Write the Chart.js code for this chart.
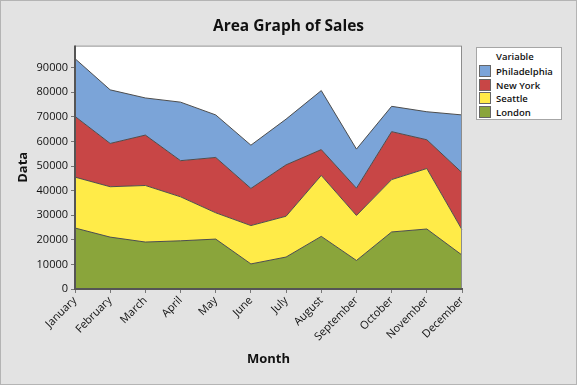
<!DOCTYPE html>
<html>
<head>
<meta charset="utf-8">
<script src="https://cdn.jsdelivr.net/npm/chart.js@4"></script>
<style>
  html, body { margin: 0; padding: 0; background: #e3e3e3; }
  #wrap { position: relative; width: 577px; height: 385px; overflow: hidden; }
  #frame { position: absolute; left: 0; top: 0; width: 575px; height: 383px; border: 1px solid #b4b4b4; pointer-events: none; }
  canvas { position: absolute; left: 0; top: 0; }
  #legend { position: absolute; left: 476px; top: 47px; width: 84px; height: 71px; background: #fff; border: 1px solid #a6a6a6;
            font-family: "Open Sans", "Noto Sans", sans-serif; font-size: 9.5px; font-weight: 600; color: #111; }
  #legend .ttl { position: absolute; left: 19px; top: 2px; }
  #legend .it { position: absolute; left: 2px; height: 13px; line-height: 13px; white-space: nowrap; }
  #legend .sw { display: inline-block; width: 10px; height: 10px; border: 1px solid #666; vertical-align: -2px; margin-right: 5px; }
</style>
</head>
<body>
<div id="wrap">
  <canvas id="c" width="577" height="385"></canvas>
  <div id="legend"></div>
  <div id="frame"></div>
</div>
<script>
const months = ['January','February','March','April','May','June','July','August','September','October','November','December'];
const london       = [24800, 21100, 19100, 19600, 20300, 10200, 13000, 21400, 11600, 23200, 24400, 13800];
const seattle      = [20700, 20500, 23000, 17900, 10700, 15600, 16600, 24800, 18300, 21300, 24600, 10300];
const newYork      = [24700, 17600, 20500, 14700, 22500, 15100, 20900, 10500, 11100, 19500, 11700, 23200];
const philadelphia = [23500, 21800, 15100, 23800, 17300, 17600, 18600, 24000, 15900, 10300, 11400, 23500];
const yTickValues  = [0, 10000, 20000, 30000, 40000, 50000, 60000, 70000, 80000, 90000];
const seriesNames  = ['London', 'Seattle', 'New York', 'Philadelphia'];
const seriesColors = ['#8aa53b', '#ffeb48', '#c84646', '#7ba4d8'];
const seriesData   = [london, seattle, newYork, philadelphia];

const FONT = '"Open Sans", "Noto Sans", sans-serif';

const datasets = seriesData.map((d, i) => ({
  label: seriesNames[i],
  data: d,
  backgroundColor: seriesColors[i],
  borderColor: '#4d4d4d',
  borderWidth: 1,
  pointRadius: 0,
  tension: 0,
  fill: i === 0 ? 'origin' : '-1'
}));

const plotFrame = {
  id: 'plotFrame',
  beforeDraw(chart) {
    const {ctx, chartArea: a} = chart;
    ctx.save();
    ctx.fillStyle = '#ffffff';
    ctx.fillRect(a.left, a.top, a.right - a.left, a.bottom - a.top);
    ctx.restore();
  },
  afterDatasetsDraw(chart) {
    const {ctx, chartArea: a} = chart;
    ctx.save();
    ctx.strokeStyle = '#8c8c8c';
    ctx.lineWidth = 1;
    ctx.strokeRect(a.left + 0.5, a.top + 0.5, a.right - a.left - 1, a.bottom - a.top);
    ctx.strokeStyle = '#555555';
    ctx.lineWidth = 2;
    ctx.beginPath();
    ctx.moveTo(a.left, a.top);
    ctx.lineTo(a.left, a.bottom);
    ctx.lineTo(a.right + 1, a.bottom);
    ctx.stroke();
    ctx.restore();
  }
};

new Chart(document.getElementById('c'), {
  type: 'line',
  data: { labels: months, datasets },
  plugins: [plotFrame],
  options: {
    responsive: false,
    animation: false,
    layout: { padding: 0 },
    plugins: {
      legend: { display: false },
      tooltip: { enabled: false },
      title: {
        display: true,
        text: 'Area Graph of Sales',
        color: '#111',
        font: { family: FONT, size: 15.5, weight: 'bold' },
        padding: { top: 17, bottom: 10 }
      },
      filler: { propagate: false }
    },
    scales: {
      x: {
        type: 'category',
        offset: false,
        grid: { display: true, drawOnChartArea: false, tickLength: 4, color: '#777' },
        border: { display: false },
        ticks: {
          color: '#111', font: { family: FONT, size: 11 },
          minRotation: 45, maxRotation: 45, padding: 1, autoSkip: false
        },
        title: {
          display: true, text: 'Month', color: '#111',
          font: { family: FONT, size: 13, weight: 'bold' },
          padding: { top: 0, bottom: 18 }
        },
        afterFit(s) { s.height = 96; }
      },
      y: {
        stacked: true,
        min: 0, max: 99000,
        grid: { display: true, drawOnChartArea: false, tickLength: 4, color: '#777' },
        border: { display: false },
        ticks: { color: '#111', font: { family: FONT, size: 11 }, padding: 3,
                 callback: v => String(v) },
        afterBuildTicks(s) { s.ticks = yTickValues.map(v => ({ value: v })); },
        title: {
          display: true, text: 'Data', color: '#111',
          font: { family: FONT, size: 13, weight: 'bold' },
          padding: { top: 15, bottom: 0 }
        },
        afterFit(s) { s.width = 75; }
      },
      yRight: {
        position: 'right',
        display: true,
        grid: { display: false },
        border: { display: false },
        ticks: { display: false },
        afterFit(s) { s.width = 115; }
      }
    }
  }
});

// HTML legend (topmost series first)
const legend = document.getElementById('legend');
const ttl = document.createElement('div');
ttl.className = 'ttl';
ttl.textContent = 'Variable';
legend.appendChild(ttl);
const order = [3, 2, 1, 0];
order.forEach((idx, k) => {
  const it = document.createElement('div');
  it.className = 'it';
  it.style.top = (17 + k * 13.5) + 'px';
  const sw = document.createElement('span');
  sw.className = 'sw';
  sw.style.background = seriesColors[idx];
  it.appendChild(sw);
  it.appendChild(document.createTextNode(seriesNames[idx]));
  legend.appendChild(it);
});
</script>
</body>
</html>
